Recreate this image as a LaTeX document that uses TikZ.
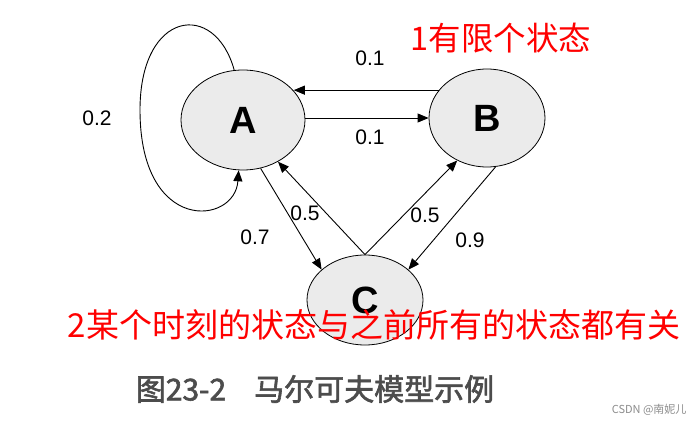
\documentclass[tikz,border=0pt]{standalone}
\usepackage{fontspec}
\setmainfont{Liberation Sans}
\newfontfamily\cjk{Noto Sans CJK SC}
\newfontfamily\cjkb[FakeBold=2]{Noto Sans CJK SC}
\usetikzlibrary{arrows.meta,shapes.geometric}
\begin{document}
\begin{tikzpicture}[x=1pt,y=-1pt,
  st/.style={ellipse,draw=black,thick,fill=black!8,minimum width=116pt,minimum height=98pt,font=\fontsize{38}{38}\selectfont\bfseries},
  ar/.style={-{Triangle[length=11pt,width=9pt]},line width=0.9pt},
  lb/.style={font=\fontsize{21}{21}\selectfont}]
\useasboundingbox (0,0) rectangle (694,425);
\fill[white] (0,0) rectangle (694,425);
\node[st,minimum width=124pt,minimum height=100pt] (A) at (243,120) {A};
\node[st] (B) at (487,118) {B};
\node[st,minimum height=90pt] (C) at (365,300) {C};
\draw[ar] (B.150) -- (A.30 |- B.150);
\draw[ar] (A.0 |- 0,118) -- (B.180);
\node[lb] (l1) at (370,58) {0.1};
\node[lb] (l2) at (370,137) {0.1};
\draw[ar] (A.100) .. controls (215,0) and (140,10) .. (140,110) .. controls (140,235) and (235,225) .. (A.265);
\node[lb] (l3) at (97,118) {0.2};
\draw[ar] (A.290) -- (C.145);
\draw[ar] (C.90) -- (A.310);
\draw[ar] (C.90) -- (B.235);
\draw[ar] (B.280) -- (C.35);
\node[lb] (l4) at (255,237) {0.7};
\node[lb] (l5) at (305,213) {0.5};
\node[lb] (l6) at (425,215) {0.5};
\node[lb] (l7) at (470,240) {0.9};
\node[text=red,font=\cjk\fontsize{32.5}{32}\selectfont] (t1) at (501,38) {1有限个状态};
\node[text=red,font=\cjk\fontsize{33}{33}\selectfont] (t2) at (374,325) {2某个时刻的状态与之前所有的状态都有关};
\node[text=black!70,font=\cjkb\fontsize{30}{30}\selectfont] (t3) at (315,389) {图23-2\hspace{28pt}马尔可夫模型示例};
\node[text=black!45,font=\cjk\fontsize{11}{11}\selectfont,anchor=east] (t4) at (690,410) {CSDN @南妮儿};
\end{tikzpicture}
\end{document}
